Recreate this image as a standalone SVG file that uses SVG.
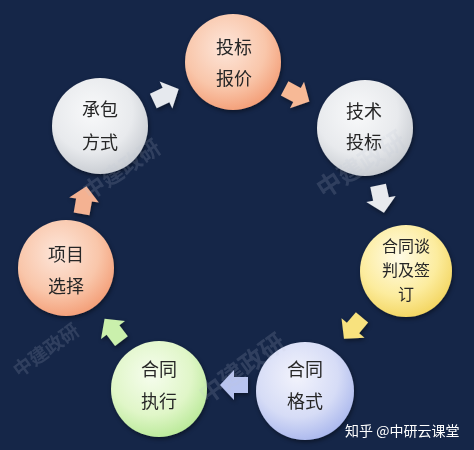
<svg xmlns="http://www.w3.org/2000/svg" width="474" height="450" viewBox="0 0 474 450">
<defs>
<style>
.lbl{font-family:"Noto Sans CJK SC","Noto Sans",sans-serif;font-size:18px;fill:#262626;text-anchor:middle}
.lbl3{font-family:"Noto Sans CJK SC","Noto Sans",sans-serif;font-size:16px;fill:#262626;text-anchor:middle}
.wm{font-family:"Noto Sans CJK SC",sans-serif;font-size:22px;font-weight:bold;fill:#c0c8d6;opacity:0.16;text-anchor:middle}
.foot{font-family:"Noto Sans CJK SC","Noto Sans",sans-serif;font-size:14px;fill:#ffffff}
</style>
<radialGradient id="gPeach" cx="0.42" cy="0.35" r="0.7">
<stop offset="0" stop-color="#fde6da"/><stop offset="0.6" stop-color="#f9c6aa"/><stop offset="1" stop-color="#f39a72"/>
</radialGradient>
<radialGradient id="gWhite" cx="0.42" cy="0.35" r="0.7">
<stop offset="0" stop-color="#f8f9fa"/><stop offset="0.6" stop-color="#e8eaed"/><stop offset="1" stop-color="#c4c8ce"/>
</radialGradient>
<radialGradient id="gYellow" cx="0.42" cy="0.35" r="0.7">
<stop offset="0" stop-color="#fffbe6"/><stop offset="0.6" stop-color="#fcec9e"/><stop offset="1" stop-color="#f2d35a"/>
</radialGradient>
<radialGradient id="gBlue" cx="0.42" cy="0.35" r="0.7">
<stop offset="0" stop-color="#f2f3fc"/><stop offset="0.6" stop-color="#d6dcf6"/><stop offset="1" stop-color="#a6b4ec"/>
</radialGradient>
<radialGradient id="gGreen" cx="0.42" cy="0.35" r="0.7">
<stop offset="0" stop-color="#f6fdee"/><stop offset="0.6" stop-color="#e0f6c8"/><stop offset="1" stop-color="#b6e894"/>
</radialGradient>
<filter id="sh" x="-20%" y="-20%" width="140%" height="140%">
<feDropShadow dx="1" dy="2" stdDeviation="2" flood-color="#000000" flood-opacity="0.45"/>
</filter>
<path id="arr" d="M-14,-8 H0 V-15 L14,0 L0,15 V8 H-14 Z"/>
</defs>
<rect width="474" height="450" fill="#152648"/>

<g id="connectors" filter="url(#sh)">
<use href="#arr" transform="translate(166,95) rotate(-25)" fill="#e6e9ee"/>
<use href="#arr" transform="translate(297,95) rotate(28)" fill="#f7b996"/>
<use href="#arr" transform="translate(381,199) rotate(78)" fill="#e8eaee"/>
<use href="#arr" transform="translate(353,328) rotate(130)" fill="#f8e27e"/>
<use href="#arr" transform="translate(234,385) rotate(180)" fill="#b8c4f0"/>
<use href="#arr" transform="translate(113,330) rotate(-127)" fill="#caf0ac"/>
<use href="#arr" transform="translate(84,200) rotate(-80)" fill="#f4b292"/>
</g>

<g id="n-toubiao-baojia">
<circle cx="233" cy="62" r="48" fill="url(#gPeach)" filter="url(#sh)"/>
<text class="lbl" x="234" y="54">投标</text>
<text class="lbl" x="234" y="85">报价</text>
</g>
<g id="n-jishu-toubiao">
<circle cx="365" cy="128" r="48" fill="url(#gWhite)" filter="url(#sh)"/>
<text class="lbl" x="364" y="118">技术</text>
<text class="lbl" x="364" y="149">投标</text>
</g>
<g id="n-tanpan">
<circle cx="406" cy="271" r="46" fill="url(#gYellow)" filter="url(#sh)"/>
<text class="lbl3" x="406" y="252">合同谈</text>
<text class="lbl3" x="406" y="276">判及签</text>
<text class="lbl3" x="406" y="300">订</text>
</g>
<g id="n-geshi">
<circle cx="305" cy="391" r="49" fill="url(#gBlue)" filter="url(#sh)"/>
<text class="lbl" x="305" y="376">合同</text>
<text class="lbl" x="305" y="408">格式</text>
</g>
<g id="n-zhixing">
<circle cx="159" cy="389" r="48" fill="url(#gGreen)" filter="url(#sh)"/>
<text class="lbl" x="159" y="376">合同</text>
<text class="lbl" x="159" y="408">执行</text>
</g>
<g id="n-xiangmu">
<circle cx="66" cy="268" r="48" fill="url(#gPeach)" filter="url(#sh)"/>
<text class="lbl" x="66" y="261">项目</text>
<text class="lbl" x="66" y="293">选择</text>
</g>
<g id="n-chengbao">
<circle cx="100" cy="126" r="48" fill="url(#gWhite)" filter="url(#sh)"/>
<text class="lbl" x="100" y="116">承包</text>
<text class="lbl" x="100" y="149">方式</text>
</g>

<g id="watermarks">
<text class="wm" x="122" y="177" transform="rotate(-34 122 170)">中建政研</text>
<text class="wm" x="362" y="173" transform="rotate(-33 362 166)" style="font-size:25px">中建政研</text>
<text class="wm" x="243" y="377" transform="rotate(-36 243 370)" style="font-size:25px">中建政研</text>
<text class="wm" x="46" y="357" transform="rotate(-36 46 350)" style="font-size:19px">中建政研</text>
</g>

<text class="foot" x="345" y="436">知乎 @中研云课堂</text>
</svg>
